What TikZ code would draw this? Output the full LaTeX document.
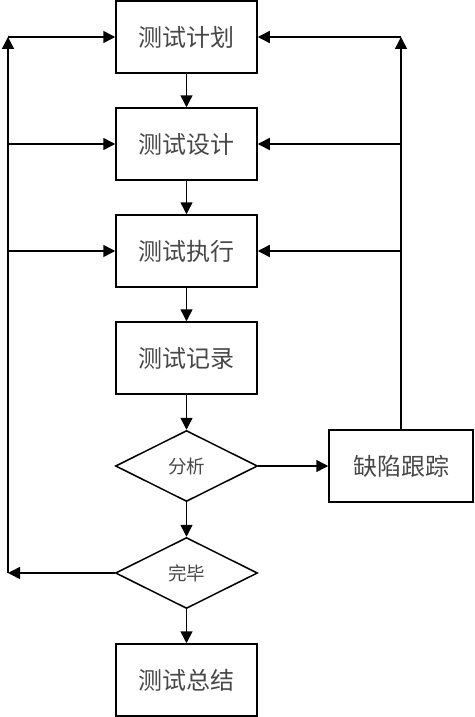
\documentclass[tikz,border=0pt]{standalone}
\usepackage{fontspec}
\newfontfamily\cjk{Noto Sans CJK SC}
\usetikzlibrary{shapes.geometric,arrows.meta}
\begin{document}
\begin{tikzpicture}[x=1pt,y=-1pt,
  box/.style={draw,line width=1.5pt,minimum width=141pt,minimum height=72pt,inner sep=0pt,
    font=\cjk\fontsize{24}{24}\selectfont,text=black!72},
  dia/.style={draw,diamond,line width=1.5pt,minimum width=142pt,minimum height=71pt,inner sep=0pt,
    font=\cjk\fontsize{18.5}{18.5}\selectfont,text=black!72},
  arr/.style={line width=1.5pt,-{Triangle[length=12pt,width=12pt]}},
  ln/.style={line width=1.5pt}]
\useasboundingbox (0,0) rectangle (474,717);
\node[box] (p1) at (186.5,37) {测试计划};
\node[box] (p2) at (186.5,144) {测试设计};
\node[box] (p3) at (186.5,251) {测试执行};
\node[box] (p4) at (186.5,358) {测试记录};
\node[dia] (a) at (186.5,466) {分析};
\node[box,minimum width=144pt] (d) at (401,466) {缺陷跟踪};
\node[dia] (c) at (186.5,573) {完毕};
\node[box] (s) at (186.5,680) {测试总结};
\coordinate (lb) at (8,573);
\coordinate (lt) at (8,37);
\coordinate (l2) at (8,144);
\coordinate (l3) at (8,251);
\coordinate (rt) at (401,37);
\coordinate (r2) at (401,144);
\coordinate (r3) at (401,251);
\draw[arr] (p1) -- (p2);
\draw[arr] (p2) -- (p3);
\draw[arr] (p3) -- (p4);
\draw[arr] (p4) -- (a);
\draw[arr] (a) -- (c);
\draw[arr] (c) -- (s);
\draw[arr] (a) -- (d);
\draw[arr] (c.west) -- (lb);
\draw[arr] (lb) -- (lt);
\draw[arr] (lt) -- (p1.west);
\draw[arr] (l2) -- (p2.west);
\draw[arr] (l3) -- (p3.west);
\draw[arr] (d.north) -- (rt);
\draw[arr] (rt) -- (p1.east);
\draw[arr] (r2) -- (p2.east);
\draw[arr] (r3) -- (p3.east);
\end{tikzpicture}
\end{document}
